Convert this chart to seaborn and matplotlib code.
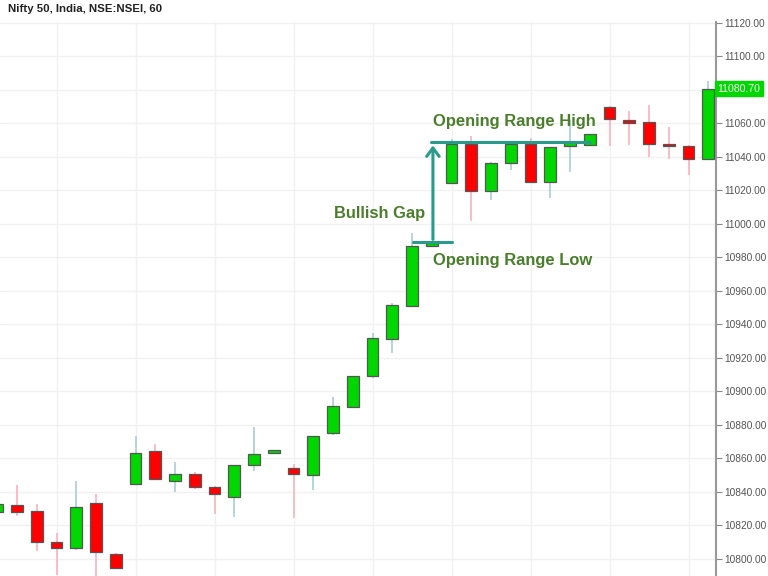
import pandas as pd
import matplotlib.pyplot as plt
import seaborn as sns

# --- dados OHLC (Nifty 50, 60 min) ---
candle_idx = list(range(-1, 36))
opens = [10828, 10832, 10828.4, 10810, 10806.3, 10833, 10803, 10844.6, 10864.3, 10846.4,
         10850.6, 10842.8, 10836.8, 10856, 10863.1, 10854.2, 10850, 10875.1, 10890.6, 10909.1,
         10931.3, 10951, 10986.9, 11024.5, 11047.8, 11019.7, 11036.5, 11047.8, 11025.1, 11046.6,
         11047.2, 11070, 11062.2, 11061, 11047.8, 11046.6, 11038.9]
highs = [10833, 10844, 10832.6, 10815, 10846.4, 10838.6, 10803.3, 10873.3, 10868.5, 10857.7,
         10851.8, 10843.4, 10856, 10878.7, 10865, 10856.5, 10873.3, 10896.6, 10909.1, 10934.8,
         10952.8, 10994.6, 10989, 11050.8, 11052.6, 11037, 11049, 11051.4, 11046, 11062.2,
         11053.8, 11070.5, 11067.5, 11071.1, 11058, 11047, 11085.5]
lows = [10827, 10825.5, 10804.5, 10790, 10805, 10788, 10794, 10844, 10847.6, 10840,
        10841.6, 10826.7, 10824.9, 10852.4, 10863, 10824.3, 10841, 10874, 10890, 10908,
        10922.9, 10950, 10986.5, 11024, 11001.8, 11014.3, 11032.3, 11024.5, 11015.5, 11031,
        11047, 11046.6, 11047.2, 11040, 11038.9, 11029.3, 11038.5]
closes = [10832.5, 10828, 10810, 10806.3, 10831, 10804, 10794.4, 10863.1, 10847.6, 10850.6,
          10842.8, 10838.6, 10856, 10862.5, 10865, 10850.6, 10873.3, 10891.2, 10909.1, 10931.9,
          10951.6, 10986.9, 10988.6, 11047.8, 11019.7, 11036.5, 11047.8, 11025.1, 11046, 11049,
          11053.8, 11062.8, 11060.4, 11047.8, 11046.6, 11038.9, 11080.7]

y_ticks = [10800, 10820, 10840, 10860, 10880, 10900, 10920, 10940, 10960, 10980,
           11000, 11020, 11040, 11060, 11080, 11100, 11120]
last_price = 11080.70
range_low = 10989
range_high = 11049

df = pd.DataFrame({'idx': candle_idx, 'open': opens, 'high': highs, 'low': lows, 'close': closes})
df['alta'] = df['close'] >= df['open']

sns.set_style('white')
plt.rcParams['font.family'] = ['Liberation Sans', 'DejaVu Sans']

fig = plt.figure(figsize=(7.68, 5.76), dpi=100)
ax = fig.add_axes([0.0, 0.0, 716 / 768, 554 / 576])

verde = '#00d600'
vermelho = '#ff0000'

# pavios
for alta, cor in [(True, '#a9cdd6'), (False, '#f7b3bd')]:
    sub = df[df['alta'] == alta]
    ax.vlines(sub['idx'], sub['low'], sub['high'], color=cor, linewidth=1.2, zorder=2)

# corpos
body_bottom = df[['open', 'close']].min(axis=1)
body_h = (df['close'] - df['open']).abs().clip(lower=1.2)
ax.bar(df['idx'], body_h, bottom=body_bottom, width=0.6,
       color=[verde if a else vermelho for a in df['alta']],
       edgecolor='#555555', linewidth=0.9, zorder=3)

# anotações
teal = '#2a9a8a'
txt_verde = '#4a7d2c'
ax.plot([20.05, 22.03], [range_low, range_low], color=teal, linewidth=2.2, zorder=4)
ax.plot([20.95, 29.0], [range_high, range_high], color=teal, linewidth=2.2, zorder=4)
ax.annotate('', xy=(21.06, range_high - 0.6), xytext=(21.06, range_low),
            arrowprops=dict(arrowstyle='->,head_length=0.6,head_width=0.45', color=teal, lw=2.2),
            zorder=4)
ax.text(21.05, 11061, 'Opening Range High', color=txt_verde, fontsize=11.9,
        fontweight='bold', va='center', ha='left')
ax.text(20.66, 11006, 'Bullish Gap', color=txt_verde, fontsize=11.9,
        fontweight='bold', va='center', ha='right')
ax.text(21.05, 10978, 'Opening Range Low', color=txt_verde, fontsize=11.9,
        fontweight='bold', va='center', ha='left')

# eixos
ax.set_xlim(-17 / 19.75, (716 - 17) / 19.75)
ax.set_ylim(10789.6, 11120.5)
ax.set_xticks(range(2, 36, 4))
ax.set_xticklabels([])
ax.tick_params(axis='x', length=0)
ax.set_yticks(y_ticks)
ax.yaxis.tick_right()
ax.set_yticklabels(['' if v == 11080 else f'{v:.2f}' for v in y_ticks])
ax.tick_params(axis='y', length=4, width=0.8, color='#888888', labelcolor='#555555',
               labelsize=7.3, pad=2)
ax.grid(True, color='#f1f1f1', linewidth=1)
ax.set_axisbelow(True)
for s in ['top', 'left', 'bottom']:
    ax.spines[s].set_visible(False)
ax.spines['right'].set_color('#999999')
ax.spines['right'].set_linewidth(1.5)

ax.text(1.002, last_price, f'{last_price:.2f}', transform=ax.get_yaxis_transform(),
        color='white', fontsize=7.6, va='center', ha='left',
        bbox=dict(boxstyle='square,pad=0.25', facecolor=verde, edgecolor=verde))

fig.text(8 / 768, 1 - 9 / 576, 'Nifty 50, India, NSE:NSEI, 60', fontsize=8.2,
         fontweight='bold', color='#222222', va='center', ha='left')

fig.savefig('out.png', dpi=100)
